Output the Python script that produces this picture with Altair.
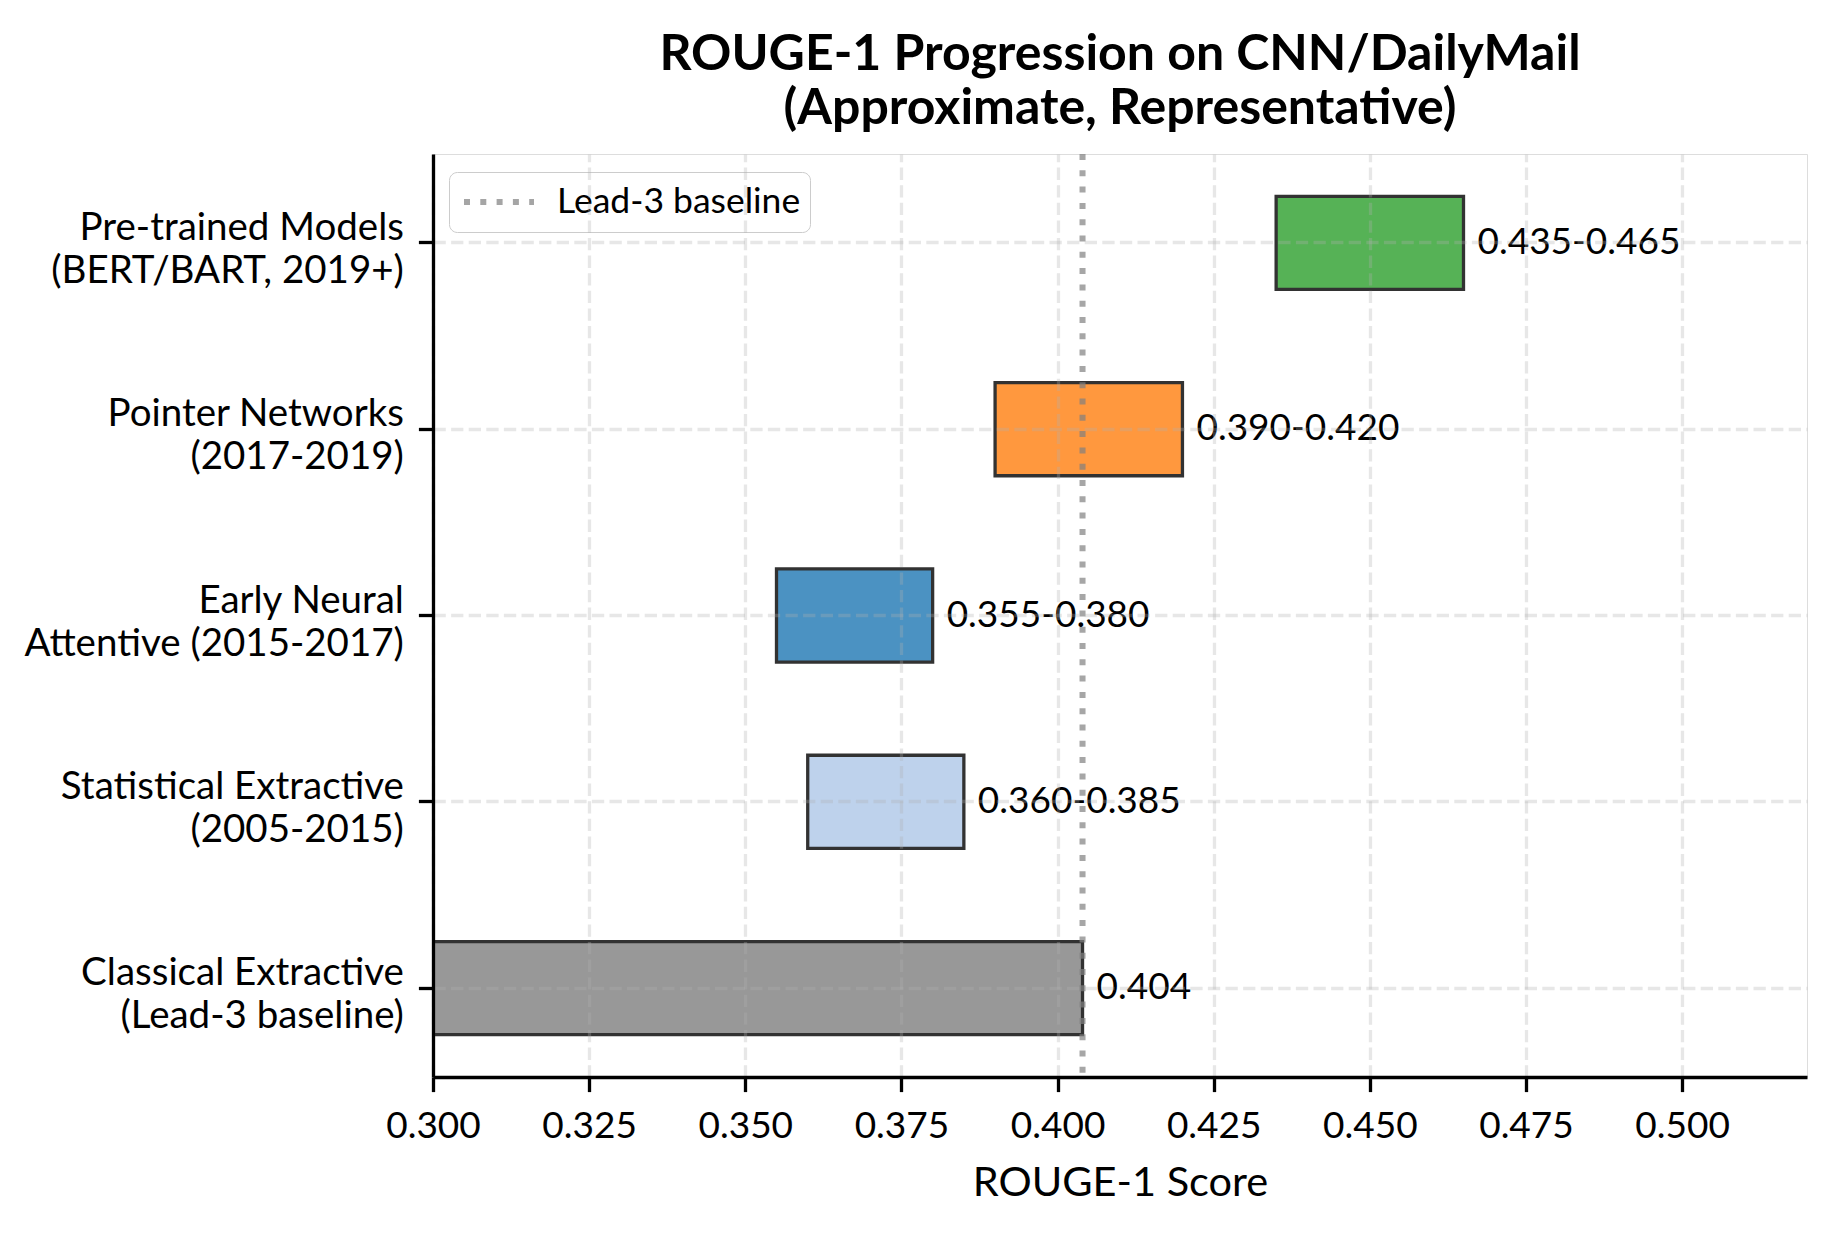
import altair as alt
import pandas as pd

categories = [
    "Pre-trained Models\n(BERT/BART, 2019+)",
    "Pointer Networks\n(2017-2019)",
    "Early Neural\nAttentive (2015-2017)",
    "Statistical Extractive\n(2005-2015)",
    "Classical Extractive\n(Lead-3 baseline)",
]
lows = [0.435, 0.390, 0.355, 0.360, 0.0]
highs = [0.465, 0.420, 0.380, 0.385, 0.404]
bar_labels = ["0.435-0.465", "0.390-0.420", "0.355-0.380", "0.360-0.385", "0.404"]
bar_colors = ["#2ca02c", "#ff7f0e", "#1f77b4", "#aec7e8", "#7f7f7f"]
baseline_value = [0.404]
baseline_name = ["Lead-3 baseline"]
x_ticks = [0.3, 0.325, 0.35, 0.375, 0.4, 0.425, 0.45, 0.475, 0.5]
x_domain = [0.3, 0.52]

FONT = "Lato"

df = pd.DataFrame({"cat": categories, "lo": lows, "hi": highs, "label": bar_labels})
rule_df = pd.DataFrame({"value": baseline_value, "series": baseline_name})

y_enc = alt.Y(
    "cat:N",
    sort=categories,
    scale=alt.Scale(paddingInner=0.5, paddingOuter=0.227),
    title=None,
    axis=alt.Axis(
        labelExpr="split(datum.label, '\\n')",
        labelFont=FONT,
        labelFontSize=38.5,
        labelLineHeight=43,
        labelColor="black",
        labelPadding=15,
        labelLimit=600,
        labelOffset=-15,
        grid=True,
        gridDash=[12.3, 5.3],
        gridColor="#b0b0b0",
        gridOpacity=0.3,
        gridWidth=3.3,
        bandPosition=0.5,
        domainColor="black",
        domainWidth=3.3,
        tickColor="black",
        tickWidth=3.3,
        tickSize=14.6,
        zindex=1,
    ),
)

x_scale = alt.Scale(domain=x_domain, nice=False, zero=False)
x_axis = alt.Axis(
    values=x_ticks,
    format=".3f",
    title="ROUGE-1 Score",
    grid=True,
    gridDash=[12.3, 5.3],
    gridColor="#b0b0b0",
    gridOpacity=0.3,
    gridWidth=3.3,
    domainColor="black",
    domainWidth=3.3,
    tickColor="black",
    tickWidth=3.3,
    tickSize=14.6,
    labelPadding=17,
    titlePadding=18,
    labelFont=FONT,
    labelFontSize=37,
    labelColor="black",
    labelFlush=False,
    labelOverlap=False,
    titleFont=FONT,
    titleFontSize=41.5,
    titleFontWeight="normal",
    titleColor="black",
    zindex=1,
)

bars = alt.Chart(df).mark_bar(
    opacity=0.8, stroke="black", strokeWidth=3.3, clip=True
).encode(
    x=alt.X("lo:Q", scale=x_scale, axis=x_axis),
    x2="hi:Q",
    y=y_enc,
    color=alt.Color(
        "cat:N", scale=alt.Scale(domain=categories, range=bar_colors), legend=None
    ),
)

texts = alt.Chart(df).mark_text(
    align="left", baseline="middle", dx=14, font=FONT, fontSize=37, color="black"
).encode(
    x=alt.X("hi:Q", scale=x_scale),
    y=alt.Y("cat:N", sort=categories),
    text="label:N",
)

rule = alt.Chart(rule_df).mark_rule(
    strokeWidth=6, strokeDash=[6, 10.3], opacity=0.7
).encode(
    x=alt.X("value:Q", scale=x_scale),
    color=alt.Color(
        "series:N",
        scale=alt.Scale(domain=baseline_name, range=["#808080"]),
        legend=alt.Legend(
            title=None,
            orient="none",
            legendX=16,
            legendY=18,
            symbolType="stroke",
            symbolDash=[6, 10.3],
            symbolStrokeWidth=6,
            symbolSize=4900,
            symbolOpacity=0.7,
            symbolOffset=3,
            clipHeight=42,
            labelFont=FONT,
            labelFontSize=35.5,
            labelColor="black",
            labelOffset=20,
            labelLimit=500,
            padding=9,
            strokeColor="#cccccc",
            cornerRadius=8,
            fillColor="white",
        ),
    ),
)

chart = (
    alt.layer(bars, rule, texts)
    .resolve_scale(color="independent")
    .properties(
        width=1374,
        height=923,
        autosize=alt.AutoSizeParams(type="none"),
        padding={"left": 433, "top": 154, "right": 27, "bottom": 157},
        title=alt.TitleParams(
            text=["ROUGE-1 Progression on CNN/DailyMail", "(Approximate, Representative)"],
            font=FONT,
            fontSize=50,
            fontWeight="bold",
            color="black",
            anchor="middle",
            baseline="bottom",
            offset=-33,
            lineHeight=54,
        ),
    )
    .configure_view(strokeWidth=0)
    .configure_legend(strokeWidth=3)
    .configure(background="white")
)

chart.save("out.html", embed_options={"renderer": "svg", "actions": False})
